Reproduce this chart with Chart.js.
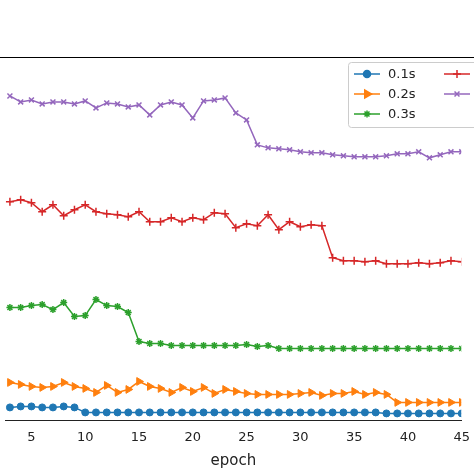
<!DOCTYPE html>
<html>
<head>
<meta charset="utf-8">
<script src="https://cdn.jsdelivr.net/npm/chart.js@4"></script>
<style>
  html, body { margin: 0; padding: 0; background: #fff; }
  #wrap { width: 474px; height: 474px; }
</style>
</head>
<body>
<div id="wrap"><canvas id="c" width="474" height="474"></canvas></div>
<script>
// epochs 3..45 (visible part of the plot)
const epochs = [];
for (let e = 3; e <= 45; e++) epochs.push(e);

// values (height above x axis, in plot units)
const s01 = [13,14,14,13,13,14,13,8,8,8,8,8,8,8,8,8,8,8,8,8,8,8,8,8,8,8,8,8,8,8,8,8,8,8,8,7,7,7,7,7,7,7,7];
const s02 = [38,36,34,33,34,38,34,32,28,35,28,31,39,34,32,28,33,29,33,27,31,29,27,26,26,26,26,27,28,25,27,27,29,26,28,26,18,18,18,18,18,18,18];
const s03 = [113,113,115,116,111,118,104,105,121,115,114,108,79,77,77,75,75,75,75,75,75,75,76,74,75,72,72,72,72,72,72,72,72,72,72,72,72,72,72,72,72,72,72];
const s04 = [219,221,218,209,216,205,211,216,209,207,206,204,209,199,199,203,199,203,201,208,207,193,197,195,206,191,199,194,196,195,163,160,160,159,160,157,157,157,158,157,158,160,159];
const s05 = [325,319,321,317,319,319,317,320,313,318,317,314,316,306,316,319,316,303,320,321,323,308,301,276,273,272,271,269,268,268,266,265,264,264,264,265,267,267,269,263,266,269,269];

const seriesLabels = ['0.1s', '0.2s', '0.3s', '0.4s', '0.5s'];
const colors = ['#1f77b4', '#ff7f0e', '#2ca02c', '#d62728', '#9467bd'];
const shapes = ['circle', 'triangle', 'star', 'cross', 'crossRot'];
const radii = [3.5, 4.5, 3.5, 4, 3.5];
const values = [s01, s02, s03, s04, s05];

const datasets = values.map((v, i) => ({
  label: seriesLabels[i],
  data: v.map((y, k) => ({ x: epochs[k], y })),
  borderColor: colors[i],
  backgroundColor: colors[i],
  borderWidth: 1.5,
  pointStyle: shapes[i],
  pointRotation: i === 1 ? 90 : 0,
  pointRadius: radii[i],
  pointBorderWidth: i >= 2 ? 1.5 : 1,
  tension: 0
}));

const framePlugin = {
  id: 'frame',
  afterDraw(chart) {
    const { ctx, chartArea: a } = chart;
    ctx.save();
    ctx.strokeStyle = '#000';
    ctx.lineWidth = 1;
    ctx.beginPath();
    ctx.moveTo(0, a.top + 0.5);
    ctx.lineTo(474, a.top + 0.5);
    ctx.stroke();
    // legend box
    const bx = 348, by = 62, bw = 130, bh = 65;
    ctx.fillStyle = 'rgba(255,255,255,0.85)';
    ctx.strokeStyle = '#ccc';
    ctx.beginPath();
    ctx.roundRect(bx + 0.5, by + 0.5, bw, bh, 3);
    ctx.fill();
    ctx.stroke();
    ctx.font = '13px "DejaVu Sans"';
    ctx.textBaseline = 'middle';
    seriesLabels.forEach((lab, i) => {
      const col = i < 3 ? 0 : 1;
      const row = i < 3 ? i : i - 3;
      const x0 = bx + 6 + col * 90;
      const y0 = by + 12 + row * 20;
      ctx.strokeStyle = colors[i];
      ctx.fillStyle = colors[i];
      ctx.lineWidth = 1.5;
      ctx.beginPath();
      ctx.moveTo(x0, y0);
      ctx.lineTo(x0 + 26, y0);
      ctx.stroke();
      Chart.helpers.drawPoint(ctx, {
        pointStyle: shapes[i], radius: radii[i], rotation: i === 1 ? 90 : 0, borderWidth: 1.5
      }, x0 + 13, y0);
      ctx.fillStyle = '#222';
      ctx.fillText(lab, x0 + 34, y0 + 1);
    });
    ctx.restore();
  }
};

new Chart(document.getElementById('c'), {
  type: 'line',
  data: { datasets },
  options: {
    responsive: false,
    animation: false,
    layout: { padding: { top: 57, left: 0, right: -14, bottom: 0 } },
    plugins: { legend: { display: false }, tooltip: { enabled: false } },
    scales: {
      x: {
        type: 'linear',
        min: 2.59,
        max: 44.95,
        afterBuildTicks(scale) {
          scale.ticks = [5, 10, 15, 20, 25, 30, 35, 40, 45].map(v => ({ value: v }));
        },
        grid: { display: false, drawTicks: true, tickLength: 5, tickColor: '#222' },
        border: { color: '#222', width: 1 },
        ticks: { color: '#222', font: { size: 13, family: 'DejaVu Sans' }, maxRotation: 0, autoSkip: false, padding: 4 },
        title: { display: true, text: 'epoch', color: '#222', font: { size: 15, family: 'DejaVu Sans' }, padding: { top: 3, bottom: 4 } }
      },
      y: {
        display: false,
        min: 0,
        max: 364
      }
    }
  },
  plugins: [framePlugin]
});
</script>
</body>
</html>
